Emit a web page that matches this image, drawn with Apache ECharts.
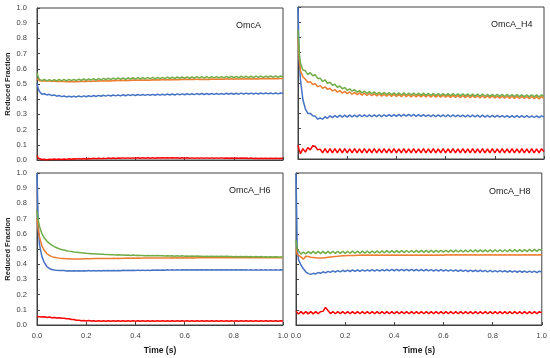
<!DOCTYPE html>
<html>
<head>
<meta charset="utf-8">
<script src="https://cdn.jsdelivr.net/npm/echarts@6/dist/echarts.min.js"></script>
<style>html,body{margin:0;padding:0;background:#fff;}#c{width:550px;height:358px;}</style>
</head>
<body>
<div id="c"></div>
<script>
// Time samples (s)
const T = [0,0.005,
0.01,0.02,0.03,0.04,0.05,0.06,0.07,0.08,0.09,0.10,
0.11,0.12,0.13,0.14,0.15,0.16,0.17,0.18,0.19,0.20,
0.21,0.22,0.23,0.24,0.25,0.26,0.27,0.28,0.29,0.30,
0.31,0.32,0.33,0.34,0.35,0.36,0.37,0.38,0.39,0.40,
0.41,0.42,0.43,0.44,0.45,0.46,0.47,0.48,0.49,0.50,
0.51,0.52,0.53,0.54,0.55,0.56,0.57,0.58,0.59,0.60,
0.61,0.62,0.63,0.64,0.65,0.66,0.67,0.68,0.69,0.70,
0.71,0.72,0.73,0.74,0.75,0.76,0.77,0.78,0.79,0.80,
0.81,0.82,0.83,0.84,0.85,0.86,0.87,0.88,0.89,0.90,
0.91,0.92,0.93,0.94,0.95,0.96,0.97,0.98,0.99,1.00];

const panelNames = ['OmcA','OmcA_H4','OmcA_H6','OmcA_H8'];
const xTicks = [0,0.2,0.4,0.6,0.8,1.0];
const yTicks = [0,0.1,0.2,0.3,0.4,0.5,0.6,0.7,0.8,0.9,1.0];

// ---- OmcA ----
const A_green = [0.575,0.545,
0.530,0.522,0.530,0.520,0.529,0.521,0.529,0.520,0.530,0.521,
0.530,0.521,0.531,0.522,0.531,0.522,0.532,0.523,0.533,0.524,
0.534,0.525,0.535,0.526,0.536,0.527,0.537,0.528,0.538,0.529,
0.539,0.530,0.540,0.531,0.540,0.531,0.541,0.532,0.541,0.532,
0.542,0.533,0.542,0.533,0.543,0.534,0.543,0.534,0.544,0.535,
0.544,0.535,0.545,0.536,0.545,0.536,0.546,0.537,0.546,0.537,
0.547,0.538,0.547,0.538,0.548,0.539,0.548,0.539,0.548,0.539,
0.549,0.540,0.549,0.540,0.549,0.540,0.550,0.541,0.550,0.541,
0.550,0.541,0.551,0.542,0.551,0.542,0.551,0.542,0.552,0.543,
0.552,0.543,0.552,0.543,0.553,0.544,0.553,0.544,0.553,0.546];
const A_orange = [0.535,0.528,
0.522,0.520,0.521,0.519,0.520,0.518,0.519,0.517,0.518,0.516,
0.517,0.515,0.517,0.515,0.517,0.515,0.517,0.516,0.518,0.516,
0.519,0.517,0.520,0.518,0.521,0.519,0.522,0.520,0.522,0.520,
0.523,0.521,0.524,0.522,0.524,0.522,0.525,0.523,0.526,0.524,
0.526,0.524,0.527,0.525,0.527,0.525,0.528,0.526,0.528,0.526,
0.529,0.527,0.529,0.527,0.530,0.528,0.530,0.528,0.531,0.529,
0.531,0.529,0.531,0.529,0.532,0.530,0.532,0.530,0.532,0.530,
0.533,0.531,0.533,0.531,0.533,0.531,0.534,0.532,0.534,0.532,
0.534,0.532,0.535,0.533,0.535,0.533,0.535,0.533,0.535,0.533,
0.536,0.534,0.536,0.534,0.536,0.534,0.536,0.534,0.537,0.535];
const A_blue = [0.505,0.470,
0.450,0.432,0.436,0.428,0.432,0.424,0.428,0.420,0.424,0.417,
0.421,0.415,0.420,0.414,0.420,0.415,0.421,0.415,0.422,0.416,
0.423,0.417,0.424,0.418,0.425,0.419,0.426,0.420,0.427,0.421,
0.428,0.422,0.428,0.422,0.429,0.423,0.430,0.424,0.430,0.424,
0.431,0.425,0.431,0.425,0.432,0.426,0.432,0.426,0.433,0.427,
0.433,0.427,0.434,0.428,0.434,0.428,0.435,0.429,0.435,0.429,
0.436,0.430,0.436,0.430,0.437,0.431,0.437,0.431,0.437,0.431,
0.438,0.432,0.438,0.432,0.438,0.432,0.439,0.433,0.439,0.433,
0.439,0.433,0.440,0.434,0.440,0.434,0.440,0.434,0.440,0.434,
0.441,0.435,0.441,0.435,0.441,0.435,0.441,0.435,0.441,0.437];
const A_red = [0.030,0.012,
0.006,0.003,0.005,0.002,0.005,0.003,0.006,0.003,0.006,0.004,
0.007,0.004,0.008,0.005,0.008,0.006,0.009,0.006,0.010,0.007,
0.010,0.008,0.011,0.008,0.012,0.009,0.012,0.009,0.013,0.010,
0.013,0.010,0.013,0.011,0.014,0.011,0.014,0.011,0.014,0.012,
0.015,0.012,0.015,0.012,0.015,0.012,0.015,0.012,0.015,0.013,
0.015,0.013,0.015,0.013,0.015,0.013,0.015,0.012,0.015,0.012,
0.015,0.012,0.014,0.012,0.014,0.012,0.014,0.012,0.014,0.012,
0.014,0.011,0.014,0.011,0.014,0.011,0.013,0.011,0.013,0.011,
0.013,0.011,0.013,0.011,0.013,0.010,0.013,0.010,0.012,0.010,
0.012,0.010,0.012,0.010,0.012,0.010,0.012,0.010,0.012,0.010];

// ---- OmcA_H4 ----
const H4_green = [0.850,0.700,
0.630,0.585,0.580,0.555,0.568,0.548,0.555,0.530,0.532,0.510,
0.520,0.498,0.505,0.485,0.492,0.472,0.480,0.462,0.470,0.452,
0.462,0.446,0.456,0.440,0.450,0.435,0.446,0.432,0.443,0.429,
0.441,0.427,0.439,0.425,0.438,0.424,0.437,0.423,0.436,0.422,
0.435,0.421,0.435,0.421,0.434,0.420,0.434,0.420,0.433,0.419,
0.433,0.419,0.432,0.418,0.432,0.418,0.431,0.417,0.431,0.417,
0.430,0.416,0.430,0.416,0.429,0.415,0.429,0.415,0.428,0.414,
0.428,0.414,0.427,0.413,0.427,0.413,0.426,0.412,0.426,0.412,
0.426,0.412,0.425,0.411,0.425,0.411,0.424,0.410,0.424,0.410,
0.423,0.409,0.423,0.409,0.423,0.409,0.422,0.408,0.422,0.412];
const H4_orange = [0.800,0.660,
0.580,0.540,0.525,0.505,0.508,0.490,0.495,0.476,0.483,0.465,
0.475,0.458,0.466,0.448,0.457,0.440,0.450,0.434,0.445,0.430,
0.441,0.426,0.438,0.423,0.435,0.420,0.433,0.418,0.431,0.416,
0.429,0.415,0.428,0.414,0.427,0.413,0.426,0.412,0.425,0.411,
0.424,0.410,0.424,0.410,0.423,0.409,0.423,0.409,0.422,0.408,
0.422,0.408,0.421,0.407,0.421,0.407,0.420,0.406,0.420,0.406,
0.419,0.405,0.419,0.405,0.418,0.404,0.418,0.404,0.417,0.403,
0.417,0.403,0.416,0.402,0.416,0.402,0.415,0.401,0.415,0.401,
0.414,0.400,0.414,0.400,0.413,0.399,0.413,0.399,0.412,0.398,
0.412,0.398,0.411,0.397,0.411,0.397,0.410,0.396,0.410,0.398];
const H4_blue = [1.000,0.660,
0.520,0.390,0.330,0.300,0.300,0.284,0.282,0.262,0.270,0.262,
0.278,0.268,0.284,0.272,0.286,0.274,0.288,0.276,0.288,0.276,
0.289,0.277,0.289,0.277,0.290,0.278,0.290,0.278,0.290,0.278,
0.290,0.279,0.291,0.279,0.291,0.280,0.292,0.280,0.292,0.281,
0.293,0.281,0.294,0.282,0.294,0.282,0.293,0.281,0.292,0.280,
0.292,0.280,0.291,0.279,0.291,0.279,0.290,0.279,0.290,0.278,
0.290,0.278,0.290,0.278,0.289,0.278,0.289,0.277,0.289,0.277,
0.288,0.277,0.288,0.276,0.288,0.276,0.287,0.276,0.287,0.275,
0.287,0.275,0.286,0.275,0.286,0.274,0.286,0.274,0.285,0.274,
0.285,0.273,0.285,0.273,0.284,0.273,0.284,0.272,0.284,0.276];
const H4_red = [0.090,0.060,
0.035,0.068,0.045,0.075,0.060,0.088,0.082,0.060,0.065,0.040,
0.068,0.040,0.068,0.040,0.068,0.040,0.068,0.040,0.068,0.040,
0.067,0.041,0.068,0.040,0.067,0.041,0.068,0.040,0.067,0.041,
0.068,0.040,0.067,0.041,0.068,0.040,0.067,0.041,0.068,0.040,
0.067,0.041,0.068,0.040,0.067,0.041,0.068,0.040,0.067,0.041,
0.068,0.040,0.067,0.041,0.068,0.040,0.067,0.041,0.068,0.040,
0.067,0.041,0.068,0.040,0.067,0.041,0.068,0.040,0.067,0.041,
0.068,0.040,0.067,0.041,0.068,0.040,0.067,0.041,0.068,0.040,
0.067,0.041,0.068,0.040,0.067,0.041,0.068,0.040,0.067,0.041,
0.068,0.040,0.067,0.041,0.068,0.040,0.067,0.041,0.068,0.048];

// ---- OmcA_H6 ----
const H6_green = [0.750,0.690,
0.650,0.600,0.572,0.552,0.537,0.525,0.516,0.508,0.502,0.497,
0.493,0.489,0.486,0.484,0.481,0.479,0.477,0.475,0.474,0.472,
0.471,0.469,0.469,0.467,0.467,0.465,0.465,0.463,0.464,0.462,
0.463,0.461,0.462,0.460,0.461,0.459,0.460,0.458,0.460,0.458,
0.459,0.457,0.458,0.456,0.458,0.456,0.457,0.455,0.457,0.455,
0.456,0.454,0.456,0.454,0.455,0.453,0.455,0.453,0.455,0.453,
0.454,0.452,0.454,0.452,0.454,0.452,0.453,0.451,0.453,0.451,
0.453,0.451,0.452,0.450,0.452,0.450,0.452,0.450,0.451,0.449,
0.451,0.449,0.451,0.449,0.451,0.449,0.450,0.448,0.450,0.448,
0.450,0.448,0.449,0.447,0.449,0.447,0.449,0.447,0.448,0.447];
const H6_orange = [0.700,0.630,
0.580,0.520,0.490,0.470,0.458,0.450,0.445,0.442,0.440,0.438,
0.437,0.436,0.436,0.435,0.435,0.435,0.435,0.435,0.436,0.436,
0.436,0.436,0.437,0.437,0.437,0.437,0.438,0.438,0.438,0.438,
0.439,0.438,0.439,0.438,0.439,0.439,0.440,0.439,0.440,0.439,
0.440,0.439,0.440,0.440,0.441,0.440,0.441,0.440,0.441,0.440,
0.441,0.440,0.441,0.441,0.442,0.441,0.442,0.441,0.442,0.441,
0.442,0.441,0.442,0.441,0.442,0.442,0.443,0.442,0.443,0.442,
0.443,0.442,0.443,0.442,0.443,0.442,0.443,0.442,0.443,0.442,
0.443,0.442,0.443,0.442,0.443,0.442,0.443,0.442,0.443,0.442,
0.443,0.442,0.443,0.442,0.443,0.442,0.443,0.442,0.443,0.442];
const H6_blue = [1.000,0.660,
0.530,0.450,0.410,0.385,0.372,0.365,0.362,0.360,0.359,0.358,
0.358,0.356,0.357,0.355,0.357,0.355,0.357,0.355,0.357,0.356,
0.358,0.356,0.358,0.356,0.358,0.356,0.358,0.357,0.359,0.357,
0.359,0.357,0.359,0.357,0.360,0.358,0.360,0.358,0.360,0.358,
0.361,0.359,0.361,0.359,0.361,0.359,0.362,0.360,0.362,0.360,
0.362,0.360,0.363,0.361,0.363,0.361,0.363,0.361,0.364,0.362,
0.364,0.362,0.364,0.362,0.364,0.362,0.364,0.362,0.364,0.362,
0.364,0.362,0.364,0.362,0.364,0.362,0.364,0.362,0.364,0.362,
0.364,0.362,0.364,0.362,0.363,0.361,0.363,0.361,0.363,0.361,
0.363,0.361,0.363,0.361,0.363,0.361,0.363,0.361,0.363,0.362];
const H6_red = [0.056,0.055,
0.055,0.052,0.054,0.050,0.052,0.048,0.050,0.046,0.048,0.045,
0.045,0.041,0.041,0.036,0.036,0.031,0.032,0.028,0.030,0.027,
0.029,0.026,0.028,0.025,0.028,0.025,0.028,0.025,0.028,0.025,
0.028,0.025,0.028,0.025,0.028,0.025,0.028,0.025,0.028,0.025,
0.028,0.025,0.028,0.025,0.028,0.025,0.028,0.025,0.028,0.025,
0.028,0.025,0.028,0.025,0.028,0.025,0.028,0.025,0.028,0.025,
0.028,0.025,0.028,0.025,0.028,0.025,0.028,0.025,0.028,0.025,
0.028,0.025,0.028,0.025,0.028,0.025,0.028,0.025,0.028,0.025,
0.028,0.025,0.028,0.025,0.028,0.025,0.028,0.025,0.028,0.025,
0.028,0.025,0.028,0.025,0.028,0.025,0.028,0.025,0.028,0.026];

// ---- OmcA_H8 ----
const H8_green = [0.560,0.500,
0.490,0.466,0.480,0.468,0.484,0.470,0.484,0.470,0.484,0.470,
0.484,0.470,0.484,0.470,0.485,0.471,0.485,0.471,0.485,0.471,
0.485,0.472,0.486,0.472,0.486,0.472,0.486,0.473,0.487,0.473,
0.487,0.474,0.488,0.474,0.488,0.475,0.489,0.475,0.489,0.476,
0.489,0.476,0.490,0.476,0.490,0.477,0.490,0.477,0.491,0.477,
0.491,0.478,0.491,0.478,0.492,0.478,0.492,0.479,0.492,0.479,
0.492,0.479,0.493,0.479,0.493,0.480,0.493,0.480,0.493,0.480,
0.494,0.480,0.494,0.481,0.494,0.481,0.494,0.481,0.495,0.481,
0.495,0.482,0.495,0.482,0.495,0.482,0.496,0.482,0.496,0.483,
0.496,0.483,0.497,0.483,0.497,0.484,0.497,0.484,0.498,0.490];
const H8_orange = [0.500,0.465,
0.455,0.448,0.432,0.452,0.450,0.446,0.444,0.442,0.440,0.440,
0.441,0.443,0.445,0.447,0.449,0.451,0.452,0.454,0.455,0.456,
0.457,0.457,0.458,0.458,0.459,0.459,0.460,0.459,0.460,0.459,
0.461,0.459,0.461,0.459,0.461,0.459,0.461,0.459,0.461,0.459,
0.461,0.459,0.461,0.459,0.461,0.459,0.461,0.459,0.461,0.459,
0.461,0.459,0.461,0.459,0.461,0.459,0.461,0.459,0.461,0.459,
0.462,0.460,0.462,0.460,0.462,0.460,0.462,0.460,0.462,0.460,
0.462,0.460,0.462,0.460,0.462,0.460,0.462,0.460,0.462,0.460,
0.462,0.460,0.462,0.460,0.462,0.460,0.462,0.460,0.462,0.460,
0.462,0.460,0.462,0.460,0.462,0.460,0.462,0.460,0.462,0.461];
const H8_blue = [1.000,0.500,
0.430,0.395,0.370,0.350,0.338,0.333,0.340,0.336,0.345,0.340,
0.350,0.343,0.353,0.346,0.356,0.348,0.358,0.350,0.360,0.351,
0.361,0.352,0.362,0.353,0.362,0.353,0.363,0.354,0.363,0.354,
0.364,0.355,0.364,0.355,0.365,0.356,0.365,0.356,0.366,0.357,
0.366,0.357,0.366,0.357,0.366,0.357,0.366,0.357,0.365,0.356,
0.365,0.356,0.365,0.356,0.364,0.355,0.364,0.355,0.364,0.355,
0.363,0.354,0.363,0.354,0.362,0.353,0.362,0.353,0.361,0.352,
0.361,0.352,0.360,0.351,0.360,0.351,0.359,0.350,0.359,0.350,
0.358,0.349,0.358,0.349,0.357,0.348,0.357,0.348,0.356,0.347,
0.356,0.347,0.355,0.346,0.355,0.346,0.354,0.345,0.354,0.348];
const H8_red = [0.090,0.080,
0.072,0.088,0.073,0.088,0.073,0.088,0.073,0.088,0.074,0.088,
0.090,0.116,0.095,0.075,0.088,0.074,0.088,0.074,0.088,0.074,
0.088,0.074,0.088,0.074,0.088,0.074,0.088,0.074,0.088,0.074,
0.088,0.074,0.088,0.074,0.088,0.074,0.088,0.074,0.088,0.074,
0.088,0.074,0.088,0.074,0.088,0.074,0.088,0.074,0.088,0.074,
0.088,0.074,0.088,0.074,0.088,0.074,0.088,0.074,0.088,0.074,
0.088,0.074,0.088,0.074,0.088,0.074,0.088,0.074,0.088,0.074,
0.088,0.074,0.088,0.074,0.088,0.074,0.088,0.074,0.088,0.074,
0.088,0.074,0.088,0.074,0.088,0.074,0.088,0.074,0.088,0.074,
0.088,0.074,0.088,0.074,0.088,0.074,0.088,0.074,0.088,0.080];

const panels = [
  {red:A_red, blue:A_blue, orange:A_orange, green:A_green},
  {red:H4_red, blue:H4_blue, orange:H4_orange, green:H4_green},
  {red:H6_red, blue:H6_blue, orange:H6_orange, green:H6_green},
  {red:H8_red, blue:H8_blue, orange:H8_orange, green:H8_green}
];
const colors = {red:'#FF0000', blue:'#4472C4', orange:'#ED7D31', green:'#70AD47'};

const FONT = 'Liberation Sans';
const grids = [
  {left:37, top:8, width:246, height:152},
  {left:298, top:7, width:246, height:152},
  {left:37, top:173, width:246, height:152},
  {left:296, top:173, width:246, height:152}
];
const titlePos = [
  {left:236, top:21}, {left:491, top:20}, {left:229, top:186}, {left:489, top:187}
];

const option = {
  animation:false,
  backgroundColor:'#fff',
  textStyle:{fontFamily:FONT},
  title: panelNames.map((n,i)=>({text:n, left:titlePos[i].left, top:titlePos[i].top, padding:0,
    textStyle:{fontFamily:FONT, fontSize:9, fontWeight:'normal', color:'#1a1a1a'}})),
  grid: grids.map(g=>Object.assign({show:true, borderColor:'#404040', borderWidth:1, backgroundColor:'transparent'}, g)),
  xAxis: grids.map((g,i)=>({
    type:'value', gridIndex:i, min:0, max:1, interval:0.2,
    name: i>=2 ? 'Time (s)' : '', nameLocation:'middle', nameGap:21,
    nameTextStyle:{fontFamily:FONT, fontSize:8.5, fontWeight:'bold', color:'#1a1a1a'},
    axisLine:{show:true, lineStyle:{color:'#404040', width:1}},
    axisTick:{show:true, inside:true, length:3, lineStyle:{color:'#404040'}},
    axisLabel:{show:i>=2, fontFamily:FONT, fontSize:7.5, color:'#404040', margin:7,
      formatter:v=>v.toFixed(1), showMinLabel:true, showMaxLabel:true},
    splitLine:{show:false}
  })),
  yAxis: grids.map((g,i)=>({
    type:'value', gridIndex:i, min:0, max:1, interval:0.1,
    name: (i%2===0) ? 'Reduced Fraction' : '', nameLocation:'middle', nameGap:25,
    nameTextStyle:{fontFamily:FONT, fontSize:7.5, fontWeight:'bold', color:'#1a1a1a'},
    axisLine:{show:true, lineStyle:{color:'#404040', width:1}},
    axisTick:{show:true, inside:true, length:3, lineStyle:{color:'#404040'}},
    axisLabel:{show:i%2===0, fontFamily:FONT, fontSize:7.5, color:'#404040', margin:10,
      formatter:v=>v.toFixed(1)},
    splitLine:{show:false}
  })),
  series: []
};
panels.forEach((p,i)=>{
  ['red','blue','orange','green'].forEach(k=>{
    option.series.push({
      type:'line', xAxisIndex:i, yAxisIndex:i, showSymbol:false, symbol:'none',
      data:T.map((t,j)=>[t, p[k][j]]),
      lineStyle:{color:colors[k], width:1.5}, itemStyle:{color:colors[k]},
      clip:true
    });
  });
});
const chart = echarts.init(document.getElementById('c'), null, {renderer:'canvas'});
chart.setOption(option);
</script>
</body>
</html>
